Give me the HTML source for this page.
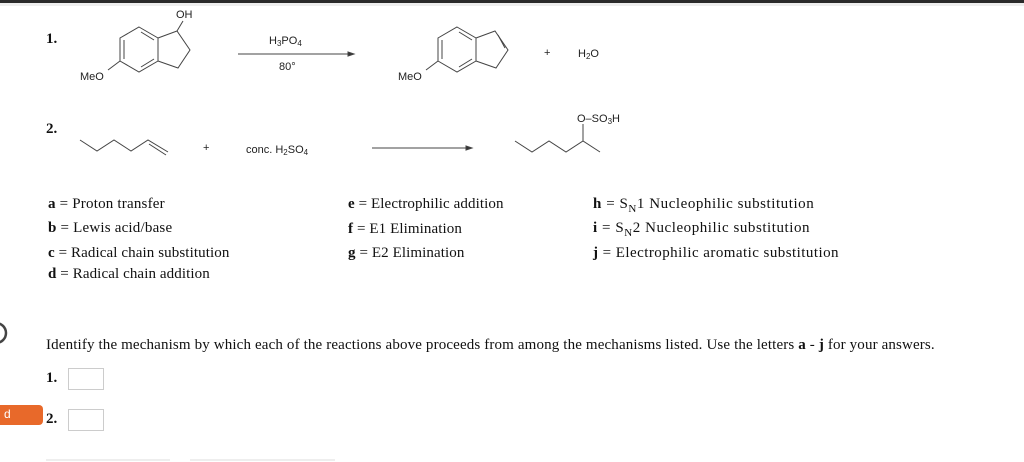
<!DOCTYPE html>
<html><head><style>
body{margin:0;width:1024px;height:462px;background:#fff;position:relative;overflow:hidden;font-family:"Liberation Serif",serif;font-size:15px;color:#111}
.t{position:absolute;white-space:nowrap}
.box{position:absolute;width:34px;height:20px;border:1px solid #ccc;background:#fff}
svg text{font-family:"Liberation Sans",sans-serif;font-size:11px;fill:#222}
</style></head><body>
<div style="position:absolute;left:0;top:0;width:1024px;height:3px;background:#2a2a2a"></div>
<div style="position:absolute;left:0;top:3px;width:1024px;height:3px;background:#eee"></div>
<svg width="1024" height="462" style="position:absolute;left:0;top:0" stroke="#444" stroke-width="1" fill="none">
<g id="r1">
<polygon points="139,27 158,38 158,61 139,72 120,61 120,38"/>
<line x1="141" y1="32" x2="154" y2="40"/><line x1="124" y1="40" x2="124" y2="59"/><line x1="141" y1="67" x2="154" y2="59"/>
<polyline points="158,38 177,31 190,50 178,68 158,61"/>
<line x1="177" y1="31" x2="183" y2="21"/>
<line x1="120" y1="61" x2="108" y2="70"/>
</g>
<g transform="translate(318,0)">
<polygon points="139,27 158,38 158,61 139,72 120,61 120,38"/>
<line x1="141" y1="32" x2="154" y2="40"/><line x1="124" y1="40" x2="124" y2="59"/><line x1="141" y1="67" x2="154" y2="59"/>
<polyline points="158,38 177,31 190,50 178,68 158,61"/>
<line x1="180" y1="35" x2="187" y2="48"/>
<line x1="120" y1="61" x2="108" y2="70"/>
</g>
<line x1="238" y1="54" x2="348" y2="54"/><polygon points="348,52 354,54 348,56" fill="#333"/>
<polyline points="80,140 97,151 114,140 131,151 148,140 168,152"/>
<line x1="149" y1="144" x2="166" y2="155"/>
<line x1="372" y1="148" x2="466" y2="148"/><polygon points="466,146 472,148 466,150" fill="#333"/>
<polyline points="515,141 532,152 549,141 566,152 583,141 600,152"/>
<line x1="583" y1="141" x2="583" y2="124"/>
<g stroke="none">
<text x="176" y="18">OH</text>
<text x="80" y="80">MeO</text>
<text x="398" y="80">MeO</text>
<text x="269" y="44">H<tspan font-size="8" dy="2">3</tspan><tspan dy="-2">PO</tspan><tspan font-size="8" dy="2">4</tspan></text>
<text x="279" y="70">80°</text>
<text x="544" y="56">+</text>
<text x="578" y="57">H<tspan font-size="8" dy="2">2</tspan><tspan dy="-2">O</tspan></text>
<text x="203" y="151">+</text>
<text x="246" y="153">conc. H<tspan font-size="8" dy="2">2</tspan><tspan dy="-2">SO</tspan><tspan font-size="8" dy="2">4</tspan></text>
<text x="577" y="122">O–SO<tspan font-size="8" dy="2">3</tspan><tspan dy="-2">H</tspan></text>
</g>
<circle cx="-4" cy="333" r="10" stroke="#444" stroke-width="2.5"/>
<rect x="-10" y="405" width="53" height="20" rx="4" fill="#e8692a" stroke="none"/>
<line x1="46" y1="460" x2="170" y2="460" stroke="#ddd"/><line x1="190" y1="460" x2="335" y2="460" stroke="#ddd"/>
</svg>
<div class="t" style="left:4px;top:407px;color:#fff;font-family:'Liberation Sans',sans-serif;font-size:12px">d</div>
<div class="t" style="left:46px;top:31px;font-weight:bold">1.</div>
<div class="t" style="left:46px;top:121px;font-weight:bold">2.</div>
<div class="t" style="left:48px;top:196px;letter-spacing:0.2px"><b>a</b> = Proton transfer</div>
<div class="t" style="left:48px;top:220px;letter-spacing:0.2px"><b>b</b> = Lewis acid/base</div>
<div class="t" style="left:48px;top:245px;letter-spacing:0.1px"><b>c</b> = Radical chain substitution</div>
<div class="t" style="left:48px;top:266px;letter-spacing:0.1px"><b>d</b> = Radical chain addition</div>
<div class="t" style="left:348px;top:196px;letter-spacing:0.1px"><b>e</b> = Electrophilic addition</div>
<div class="t" style="left:348px;top:221px;letter-spacing:0.1px"><b>f</b> = E1 Elimination</div>
<div class="t" style="left:348px;top:245px;letter-spacing:0.1px"><b>g</b> = E2 Elimination</div>
<div class="t" style="left:593px;top:196px;letter-spacing:0.55px"><b>h</b> = S<sub style="font-size:11px">N</sub>1 Nucleophilic substitution</div>
<div class="t" style="left:593px;top:220px;letter-spacing:0.55px"><b>i</b> = S<sub style="font-size:11px">N</sub>2 Nucleophilic substitution</div>
<div class="t" style="left:593px;top:245px;letter-spacing:0.45px"><b>j</b> = Electrophilic aromatic substitution</div>
<div class="t" style="left:46px;top:337px;letter-spacing:0.14px">Identify the mechanism by which each of the reactions above proceeds from among the mechanisms listed. Use the letters <b>a</b> - <b>j</b> for your answers.</div>
<div class="t" style="left:46px;top:370px;font-weight:bold">1.</div>
<div class="box" style="left:68px;top:368px"></div>
<div class="t" style="left:46px;top:411px;font-weight:bold">2.</div>
<div class="box" style="left:68px;top:409px"></div>
</body></html>
